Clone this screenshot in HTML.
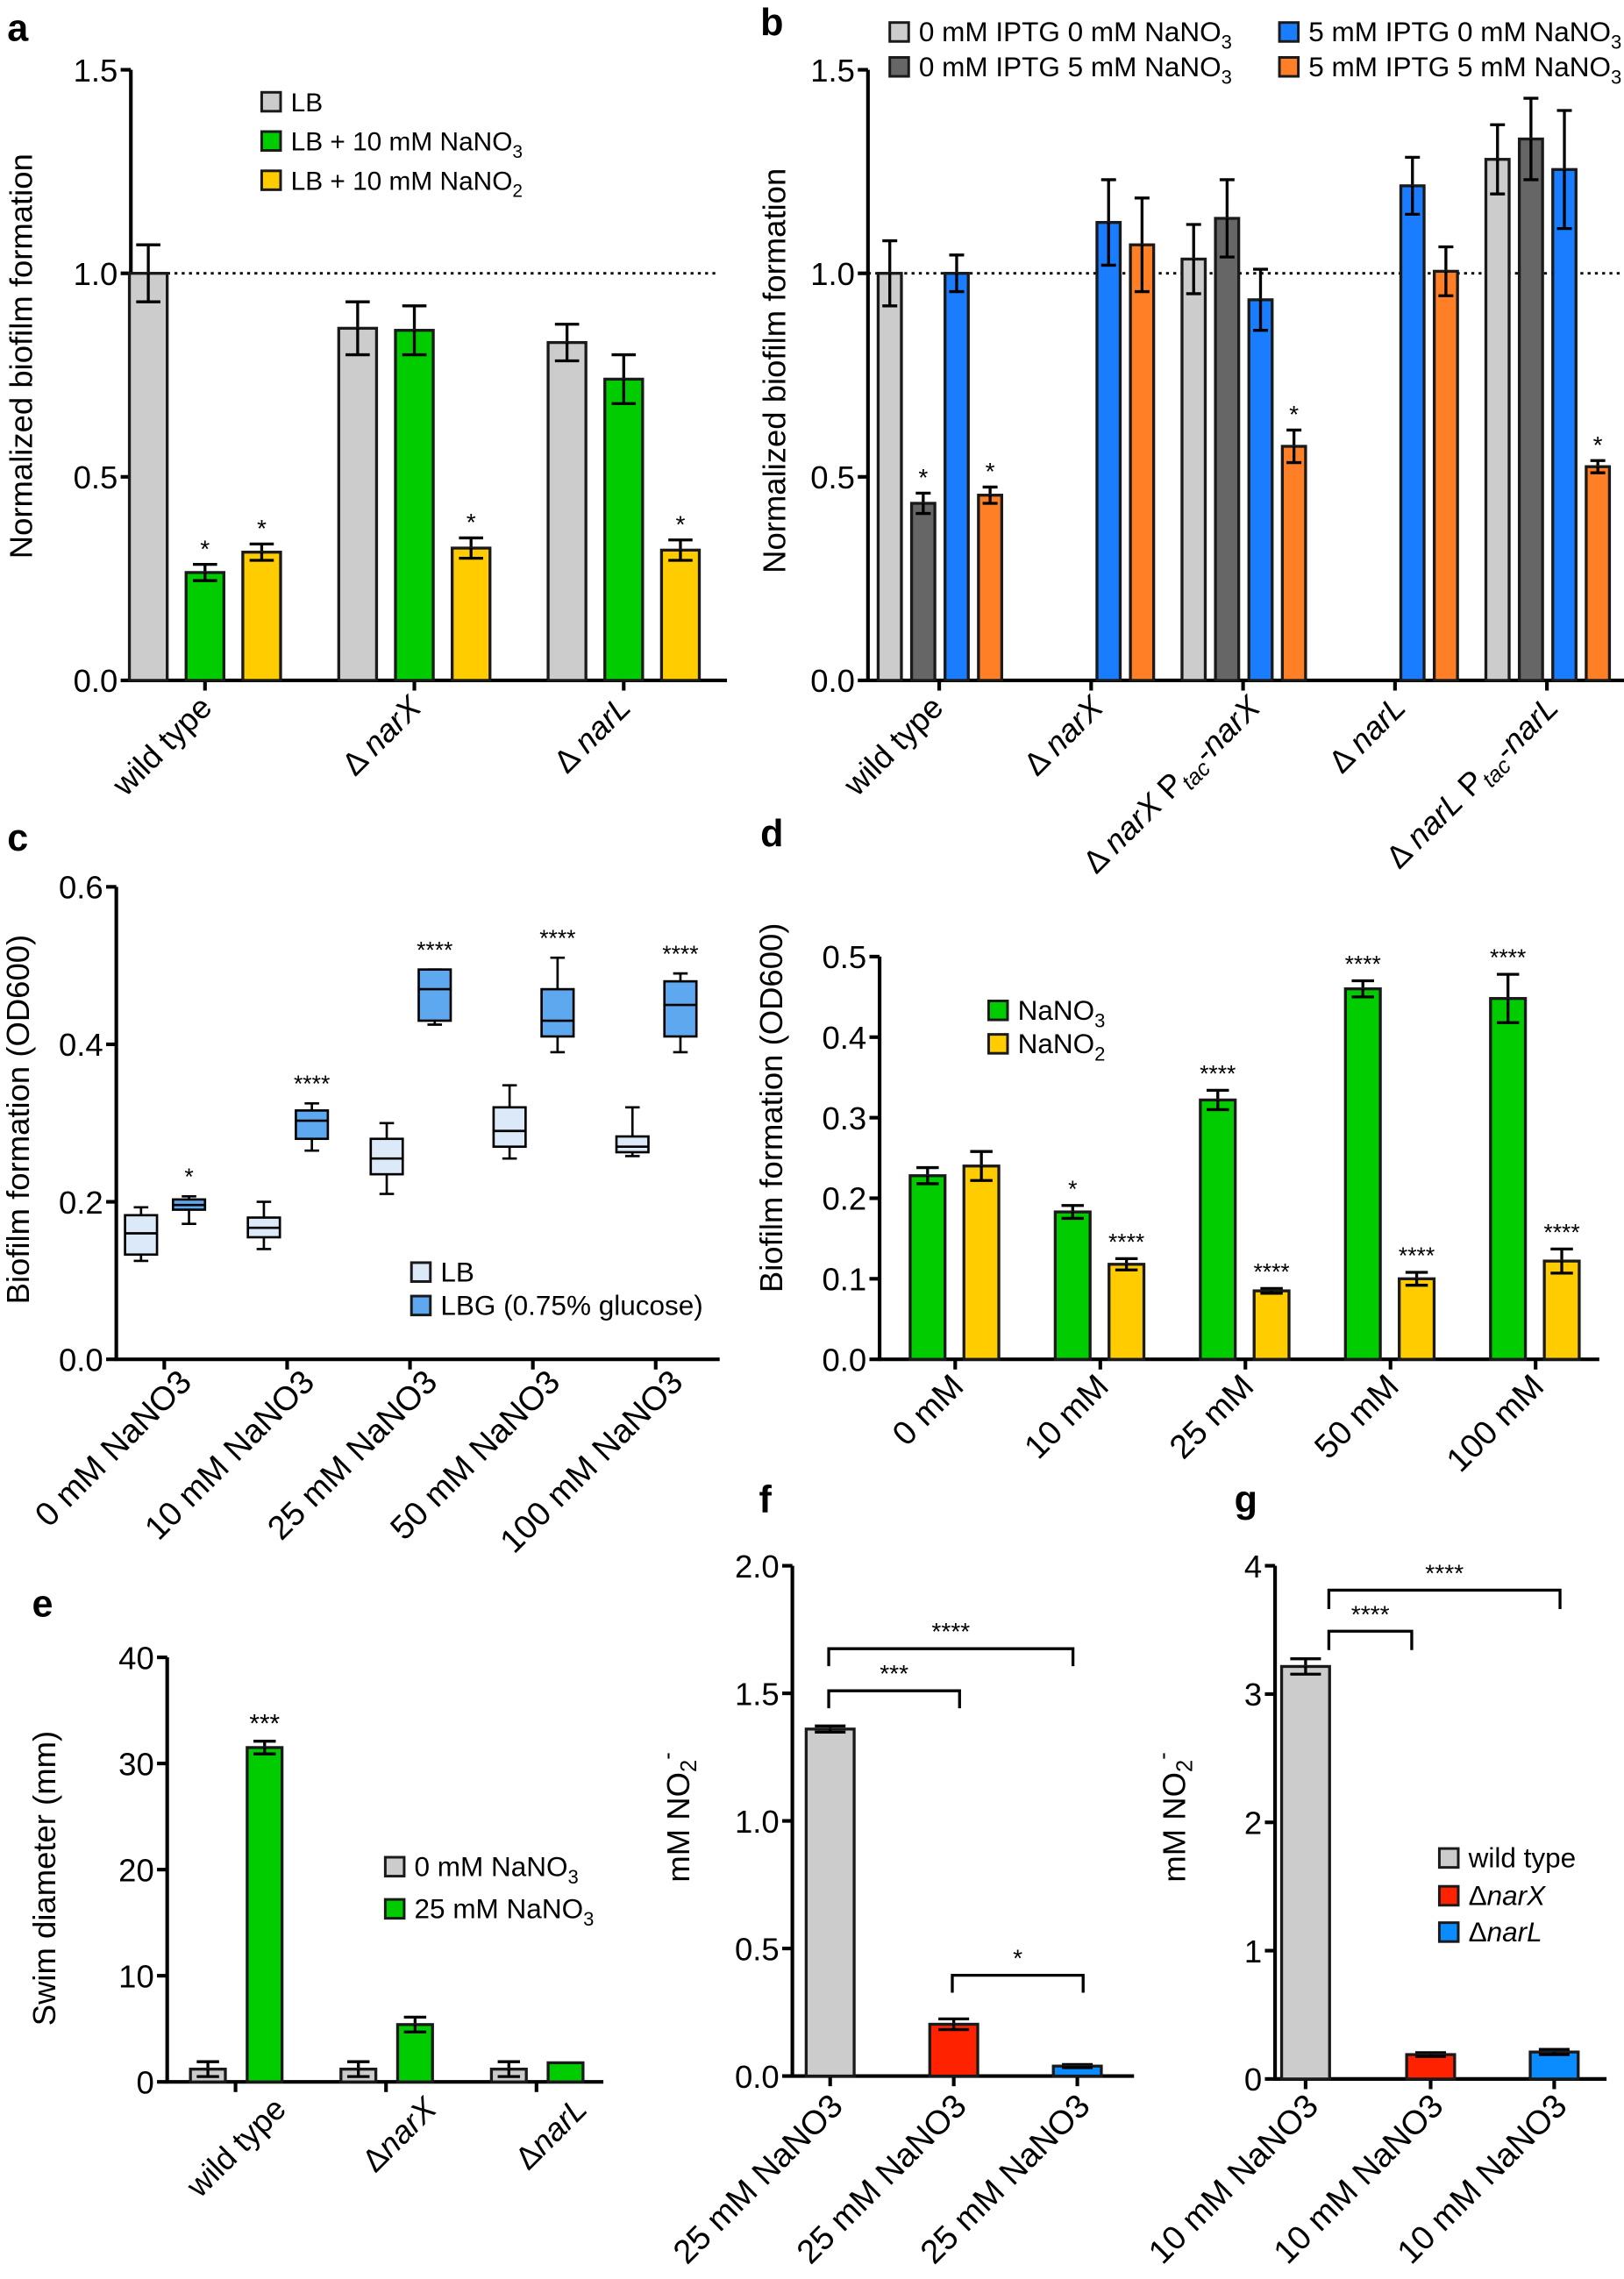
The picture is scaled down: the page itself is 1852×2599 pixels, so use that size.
<!DOCTYPE html>
<html><head><meta charset="utf-8"><style>
html,body{margin:0;padding:0;background:#fff;}
svg{display:block;font-family:"Liberation Sans",Arial,sans-serif;}
</style></head><body>
<svg id="fig" width="1852" height="2599" viewBox="0 0 1117 1567.6" preserveAspectRatio="none" xmlns="http://www.w3.org/2000/svg"></svg>
<script>
// ---------- data ----------
const aCats=['wild type','Δ narX','Δ narL'];
const aLB=[1.0,0.865,0.83], aLBe=[0.07,0.065,0.045];
const aNO3=[0.265,0.86,0.74], aNO3e=[0.02,0.06,0.06];
const aNO2=[0.315,0.325,0.32], aNO2e=[0.02,0.025,0.025];

const bCats=['wild type','Δ narX','Δ narX Ptac-narX','Δ narL','Δ narL Ptac-narL'];
const bG0=[1.0,null,1.035,null,1.28], bG0e=[0.08,0,0.085,0,0.085];
const bG5=[0.435,null,1.135,null,1.33], bG5e=[0.025,0,0.095,0,0.1];
const bB0=[1.0,1.125,0.935,1.215,1.255], bB0e=[0.045,0.105,0.075,0.07,0.145];
const bB5=[0.455,1.07,0.575,1.005,0.525], bB5e=[0.02,0.115,0.04,0.06,0.015];
const bStarG5=['*','','','',''], bStarB5=['*','','*','','*'];

const cCats=['0 mM NaNO3','10 mM NaNO3','25 mM NaNO3','50 mM NaNO3','100 mM NaNO3'];
const cLB=[[0.125,0.133,0.16,0.183,0.193],[0.14,0.155,0.167,0.18,0.2],[0.21,0.235,0.255,0.28,0.3],[0.255,0.27,0.29,0.32,0.348],[0.258,0.263,0.27,0.283,0.32]];
const cLBG=[[0.172,0.19,0.196,0.203,0.207],[0.265,0.28,0.303,0.316,0.325],[0.425,0.43,0.47,0.495,0.495],[0.39,0.41,0.43,0.47,0.51],[0.39,0.41,0.45,0.48,0.49]];
const cStars=['*','****','****','****','****'];

const dCats=['0 mM','10 mM','25 mM','50 mM','100 mM'];
const dNO3=[0.228,0.183,0.322,0.46,0.448], dNO3e=[0.01,0.008,0.012,0.01,0.03];
const dNO2=[0.24,0.118,0.085,0.1,0.122], dNO2e=[0.018,0.007,0.003,0.008,0.015];
const dStarNO3=['','*','****','****','****'], dStarNO2=['','****','****','****','****'];

const eCats=['wild type','ΔnarX','ΔnarL'];
const e0=[1.2,1.2,1.2], e0e=[0.7,0.7,0.7];
const e25=[31.5,5.4,1.8], e25e=[0.6,0.7,0];

const fVals=[1.36,0.203,0.039], fErr=[0.012,0.021,0.006];
const gVals=[3.215,0.19,0.21], gErr=[0.06,0.015,0.02];

const aTicks=[0,0.5,1.0,1.5], aTickLabels=['0.0','0.5','1.0','1.5'];
const cTicks=[0,0.2,0.4,0.6], cTickLabels=['0.0','0.2','0.4','0.6'];
const dTicks=[0,0.1,0.2,0.3,0.4,0.5], dTickLabels=['0.0','0.1','0.2','0.3','0.4','0.5'];
const eTicks=[0,10,20,30,40], eTickLabels=['0','10','20','30','40'];
const fTicks=[0,0.5,1.0,1.5,2.0], fTickLabels=['0.0','0.5','1.0','1.5','2.0'];
const gTicks=[0,1,2,3,4], gTickLabels=['0','1','2','3','4'];

// ---------- helpers ----------
const NS='http://www.w3.org/2000/svg';
const svg=document.getElementById('fig');
function mk(tag,attrs,parent){const e=document.createElementNS(NS,tag);for(const k in attrs)e.setAttribute(k,attrs[k]);(parent||svg).appendChild(e);return e;}
function lin(v0,p0,v1,p1){return v=>p0+(v-v0)*(p1-p0)/(v1-v0);}
function txt(x,y,html,size,opts,parent){const t=mk('text',Object.assign({x:x,y:y,'font-size':size,fill:'#000'},opts||{}),parent);t.innerHTML=html;return t;}
function yAxis(x,y,ticks,labels,name){
  const g=mk('g',{});
  
  
  mk('line',{x1:x,x2:x,y1:y(ticks[0])+1.2,y2:y(ticks[ticks.length-1]),stroke:'#000','stroke-width':2.5},g);
  ticks.forEach((t,i)=>{
    mk('line',{x1:x-7,x2:x,y1:y(t),y2:y(t),stroke:'#000','stroke-width':2.5},g);
    txt(x-9,y(t)+8,labels[i],22,{'text-anchor':'end'},g);
  });
}
function xAxis(x0,x1,yy,tickXs,name){
  const g=mk('g',{});
  
  
  mk('line',{x1:x0,x2:x1,y1:yy,y2:yy,stroke:'#000','stroke-width':2.5},g);
  tickXs.forEach(tx=>mk('line',{x1:tx,x2:tx,y1:yy,y2:yy+7,stroke:'#000','stroke-width':2.5},g));
}
function bar(cx,w,v,e,fill,y,name){
  const g=mk('g',{});
  
  
  if(e>0){
    mk('line',{x1:cx,x2:cx,y1:y(v-e),y2:y(v+e),stroke:'#000','stroke-width':2},g);
    mk('line',{x1:cx-w*0.32,x2:cx+w*0.32,y1:y(v+e),y2:y(v+e),stroke:'#000','stroke-width':2},g);
  }
  mk('rect',{x:cx-w/2,y:y(v),width:w,height:y(0)-y(v),fill:fill,stroke:'#1a1a1a','stroke-width':2},g);
  if(e>0){
    mk('line',{x1:cx,x2:cx,y1:y(v),y2:y(v-e),stroke:'#000','stroke-width':2},g);
    mk('line',{x1:cx-w*0.32,x2:cx+w*0.32,y1:y(v-e),y2:y(v-e),stroke:'#000','stroke-width':2},g);
  }
  return g;
}
function star(cx,yy,s,size){if(!s)return;const t=txt(cx,yy,s,size||17,{'text-anchor':'middle'});}
function rotLabel(x,y,html,size,name){const t=txt(x,y,html,size,{'text-anchor':'end',transform:`rotate(-45 ${x} ${y})`});return t;}
function vTitle(x,y,html,size,name){const t=txt(x,y,html,size,{'text-anchor':'middle',transform:`rotate(-90 ${x} ${y})`});}
function legend(x,y,fill,html,size,name){const g=mk('g',{});mk('rect',{x:x,y:y-6.5,width:13,height:13,fill:fill,stroke:'#1a1a1a','stroke-width':1.8},g);txt(x+20,y+6.5,html,size,{},g);}
function letter(x,y,s){const t=txt(x,y,s,26,{'font-weight':'bold'});}
const SUB=n=>`<tspan dy="5" font-size="0.7em">${n}</tspan>`;

// ---------- panel a ----------
letter(5,28,'a');
const ay=lin(0,468,1.5,48);
yAxis(90,ay,aTicks,aTickLabels,'a-y-axis');
xAxis(90,500,468,aCats.map((c,i)=>141+144*i),'a-x-axis');
mk('line',{x1:90,x2:493,y1:ay(1),y2:ay(1),stroke:'#000','stroke-width':1.8,'stroke-dasharray':'2,3'});
aCats.forEach((c,i)=>{
  const x0=102+144*i;
  bar(x0,26,aLB[i],aLBe[i],'#cccccc',ay,'a-bar-lb');
  bar(x0+39,26,aNO3[i],aNO3e[i],'#00cc00',ay,'a-bar-nano3');
  bar(x0+78,26,aNO2[i],aNO2e[i],'#ffcc00',ay,'a-bar-nano2');
  if(i==0) star(x0+39,ay(aNO3[i]+aNO3e[i])-5,'*');
  star(x0+78,ay(aNO2[i]+aNO2e[i])-5,'*');
  rotLabel(x0+45,488,c.replace(/(nar[XL])/,'<tspan font-style="italic">$1</tspan>'),22,'a-category-label');
});
vTitle(22,245,'Normalized biofilm formation',22,'a-y-axis-title');
legend(180,70,'#cccccc','LB',18,'a-legend-lb');
legend(180,97,'#00cc00','LB + 10 mM NaNO'+SUB(3),18,'a-legend-nano3');
legend(180,124,'#ffcc00','LB + 10 mM NaNO'+SUB(2),18,'a-legend-nano2');

// ---------- panel b ----------
letter(523,24,'b');
const by=lin(0,468,1.5,48);
yAxis(597,by,aTicks,aTickLabels,'b-y-axis');
xAxis(597,1117,468,bCats.map((c,i)=>646+104.5*i),'b-x-axis');
mk('line',{x1:597,x2:1117,y1:by(1),y2:by(1),stroke:'#000','stroke-width':1.8,'stroke-dasharray':'2,3'});
bCats.forEach((c,i)=>{
  const x0=612+104.5*i;
  if(bG0[i]!==null) bar(x0,16,bG0[i],bG0e[i],'#cccccc',by,'b-bar-iptg0-nano3-0');
  if(bG5[i]!==null) bar(x0+23,16,bG5[i],bG5e[i],'#666666',by,'b-bar-iptg0-nano3-5');
  bar(x0+46,16,bB0[i],bB0e[i],'#1a7cff',by,'b-bar-iptg5-nano3-0');
  bar(x0+69,16,bB5[i],bB5e[i],'#ff7f27',by,'b-bar-iptg5-nano3-5');
  if(bG5[i]!==null) star(x0+23,by(bG5[i]+bG5e[i])-5,bStarG5[i]);
  star(x0+69,by(bB5[i]+bB5e[i])-5,bStarB5[i]);
});
rotLabel(650,488,'wild type',22,'b-category-label');
rotLabel(760,488,'Δ <tspan font-style="italic">narX</tspan>',22,'b-category-label');
rotLabel(868,488,'Δ <tspan font-style="italic">narX</tspan> P<tspan dy="5" font-size="0.7em" font-style="italic">tac</tspan><tspan dy="-5">-</tspan><tspan font-style="italic">narX</tspan>',22,'b-category-label');
rotLabel(968,488,'Δ <tspan font-style="italic">narL</tspan>',22,'b-category-label');
rotLabel(1073,488,'Δ <tspan font-style="italic">narL</tspan> P<tspan dy="5" font-size="0.7em" font-style="italic">tac</tspan><tspan dy="-5">-</tspan><tspan font-style="italic">narL</tspan>',22,'b-category-label');
vTitle(540,255,'Normalized biofilm formation',22,'b-y-axis-title');
legend(612,22,'#cccccc','0 mM IPTG 0 mM NaNO'+SUB(3),19,'b-legend-iptg0-nano0');
legend(612,46,'#666666','0 mM IPTG 5 mM NaNO'+SUB(3),19,'b-legend-iptg0-nano5');
legend(880,22,'#1a7cff','5 mM IPTG 0 mM NaNO'+SUB(3),19,'b-legend-iptg5-nano0');
legend(880,46,'#ff7f27','5 mM IPTG 5 mM NaNO'+SUB(3),19,'b-legend-iptg5-nano5');

// ---------- panel c ----------
letter(5,585,'c');
const cy=lin(0,935,0.6,610);
yAxis(80,cy,cTicks,cTickLabels,'c-y-axis');
xAxis(80,495,935,cCats.map((c,i)=>113+84.5*i),'c-x-axis');
function box(cx,d,fill,name){
  const g=mk('g',{});
  
  
  const w=22;
  mk('line',{x1:cx,x2:cx,y1:cy(d[0]),y2:cy(d[4]),stroke:'#000','stroke-width':1.6},g);
  mk('line',{x1:cx-5,x2:cx+5,y1:cy(d[0]),y2:cy(d[0]),stroke:'#000','stroke-width':1.6},g);
  mk('line',{x1:cx-5,x2:cx+5,y1:cy(d[4]),y2:cy(d[4]),stroke:'#000','stroke-width':1.6},g);
  mk('rect',{x:cx-w/2,y:cy(d[3]),width:w,height:cy(d[1])-cy(d[3]),fill:fill,stroke:'#000','stroke-width':1.6},g);
  mk('line',{x1:cx-w/2,x2:cx+w/2,y1:cy(d[2]),y2:cy(d[2]),stroke:'#000','stroke-width':1.6},g);
}
cCats.forEach((c,i)=>{
  const tx=113+84.5*i;
  box(tx-16,cLB[i],'#dbe9f8','c-box-lb');
  box(tx+17,cLBG[i],'#5ea8f0','c-box-lbg');
  star(tx+17,cy(cLBG[i][4])-8,cStars[i],16);
  rotLabel(tx+20,952,c,23,'c-category-label');
});
vTitle(20,770,'Biofilm formation (OD600)',22,'c-y-axis-title');
legend(283,875,'#dbe9f8','LB',19,'c-legend-lb');
legend(283,898,'#5ea8f0','LBG (0.75% glucose)',19,'c-legend-lbg');

// ---------- panel d ----------
letter(523,582,'d');
const dy=lin(0,935,0.5,658);
yAxis(605,dy,dTicks,dTickLabels,'d-y-axis');
xAxis(605,1100,935,dCats.map((c,i)=>657+99.8*i),'d-x-axis');
dCats.forEach((c,i)=>{
  const x0=638+99.8*i;
  bar(x0,24,dNO3[i],dNO3e[i],'#00cc00',dy,'d-bar-nano3');
  bar(x0+37,24,dNO2[i],dNO2e[i],'#ffcc00',dy,'d-bar-nano2');
  star(x0,dy(dNO3[i]+dNO3e[i])-6,dStarNO3[i],16);
  star(x0+37,dy(dNO2[i]+dNO2e[i])-6,dStarNO2[i],16);
  rotLabel(x0+26,955,c,23,'d-category-label');
});
vTitle(538,762,'Biofilm formation (OD600)',22,'d-y-axis-title');
legend(680,695,'#00cc00','NaNO'+SUB(3),19,'d-legend-nano3');
legend(680,718,'#ffcc00','NaNO'+SUB(2),19,'d-legend-nano2');

// ---------- panel e ----------
letter(22,1112,'e');
const ey=lin(0,1432,40,1140);
yAxis(115,ey,eTicks,eTickLabels,'e-y-axis');
xAxis(115,415,1432,eCats.map((c,i)=>162+103.5*i),'e-x-axis');
eCats.forEach((c,i)=>{
  const x0=143+103.5*i;
  bar(x0,24,e0[i],e0e[i],'#cccccc',ey,'e-bar-0mm');
  bar(x0+39,24,e25[i],e25e[i],'#00cc00',ey,'e-bar-25mm');
  rotLabel(x0+55,1452,c.replace(/(nar[XL])/,'<tspan font-style="italic">$1</tspan>'),22,'e-category-label');
});
star(182,ey(e25[0]+e25e[0])-6,'***',18);
vTitle(38,1292,'Swim diameter (mm)',22,'e-y-axis-title');
legend(265,1284,'#cccccc','0 mM NaNO'+SUB(3),19,'e-legend-0mm');
legend(265,1313,'#00cc00','25 mM NaNO'+SUB(3),19,'e-legend-25mm');

// ---------- panel f ----------
letter(522,1040,'f');
const fy=lin(0,1428,2.0,1077);
yAxis(545,fy,fTicks,fTickLabels,'f-y-axis');
const fx=[571,656,741];
const fCols=['#cccccc','#ff2200','#0a8cff'];
xAxis(545,780,1428,fx,'f-x-axis');
fVals.forEach((v,i)=>{
  bar(fx[i],33,v,fErr[i],fCols[i],fy,'f-bar');
  rotLabel(fx[i]+10,1450,'25 mM NaNO3',23,'f-category-label');
});
function bracket(x1,x2,yl,drop,s){const g=mk('g',{});mk('path',{d:`M${x1},${yl+drop}V${yl}H${x2}V${yl+drop}`,fill:'none',stroke:'#000','stroke-width':2},g);txt((x1+x2)/2,yl-6,s,17,{'text-anchor':'middle'},g);}
bracket(570,738,fy(1.675),12,'****');
bracket(570,660,fy(1.51),12,'***');
bracket(655,745,fy(0.395),12,'*');
vTitle(474,1250,'mM NO'+SUB(2)+'<tspan dy="-15" font-size="0.7em">-</tspan>',22,'f-y-axis-title');

// ---------- panel g ----------
letter(849,1040,'g');
const gy=lin(0,1430,4,1077);
yAxis(877,gy,gTicks,gTickLabels,'g-y-axis');
const gx=[898,984,1069];
xAxis(877,1105,1430,gx,'g-x-axis');
gVals.forEach((v,i)=>{
  bar(gx[i],33,v,gErr[i],fCols[i],gy,'g-bar');
  rotLabel(gx[i]+10,1450,'10 mM NaNO3',23,'g-category-label');
});
bracket(914,1073,gy(3.81),13,'****');
bracket(914,971,gy(3.49),13,'****');
vTitle(815,1250,'mM NO'+SUB(2)+'<tspan dy="-15" font-size="0.7em">-</tspan>',22,'g-y-axis-title');
legend(990,1278,'#cccccc','wild type',19,'g-legend-wild-type');
legend(990,1304,'#ff2200','Δ<tspan font-style="italic">narX</tspan>',19,'g-legend-narx');
legend(990,1329,'#0a8cff','Δ<tspan font-style="italic">narL</tspan>',19,'g-legend-narl');
</script>
</body></html>
